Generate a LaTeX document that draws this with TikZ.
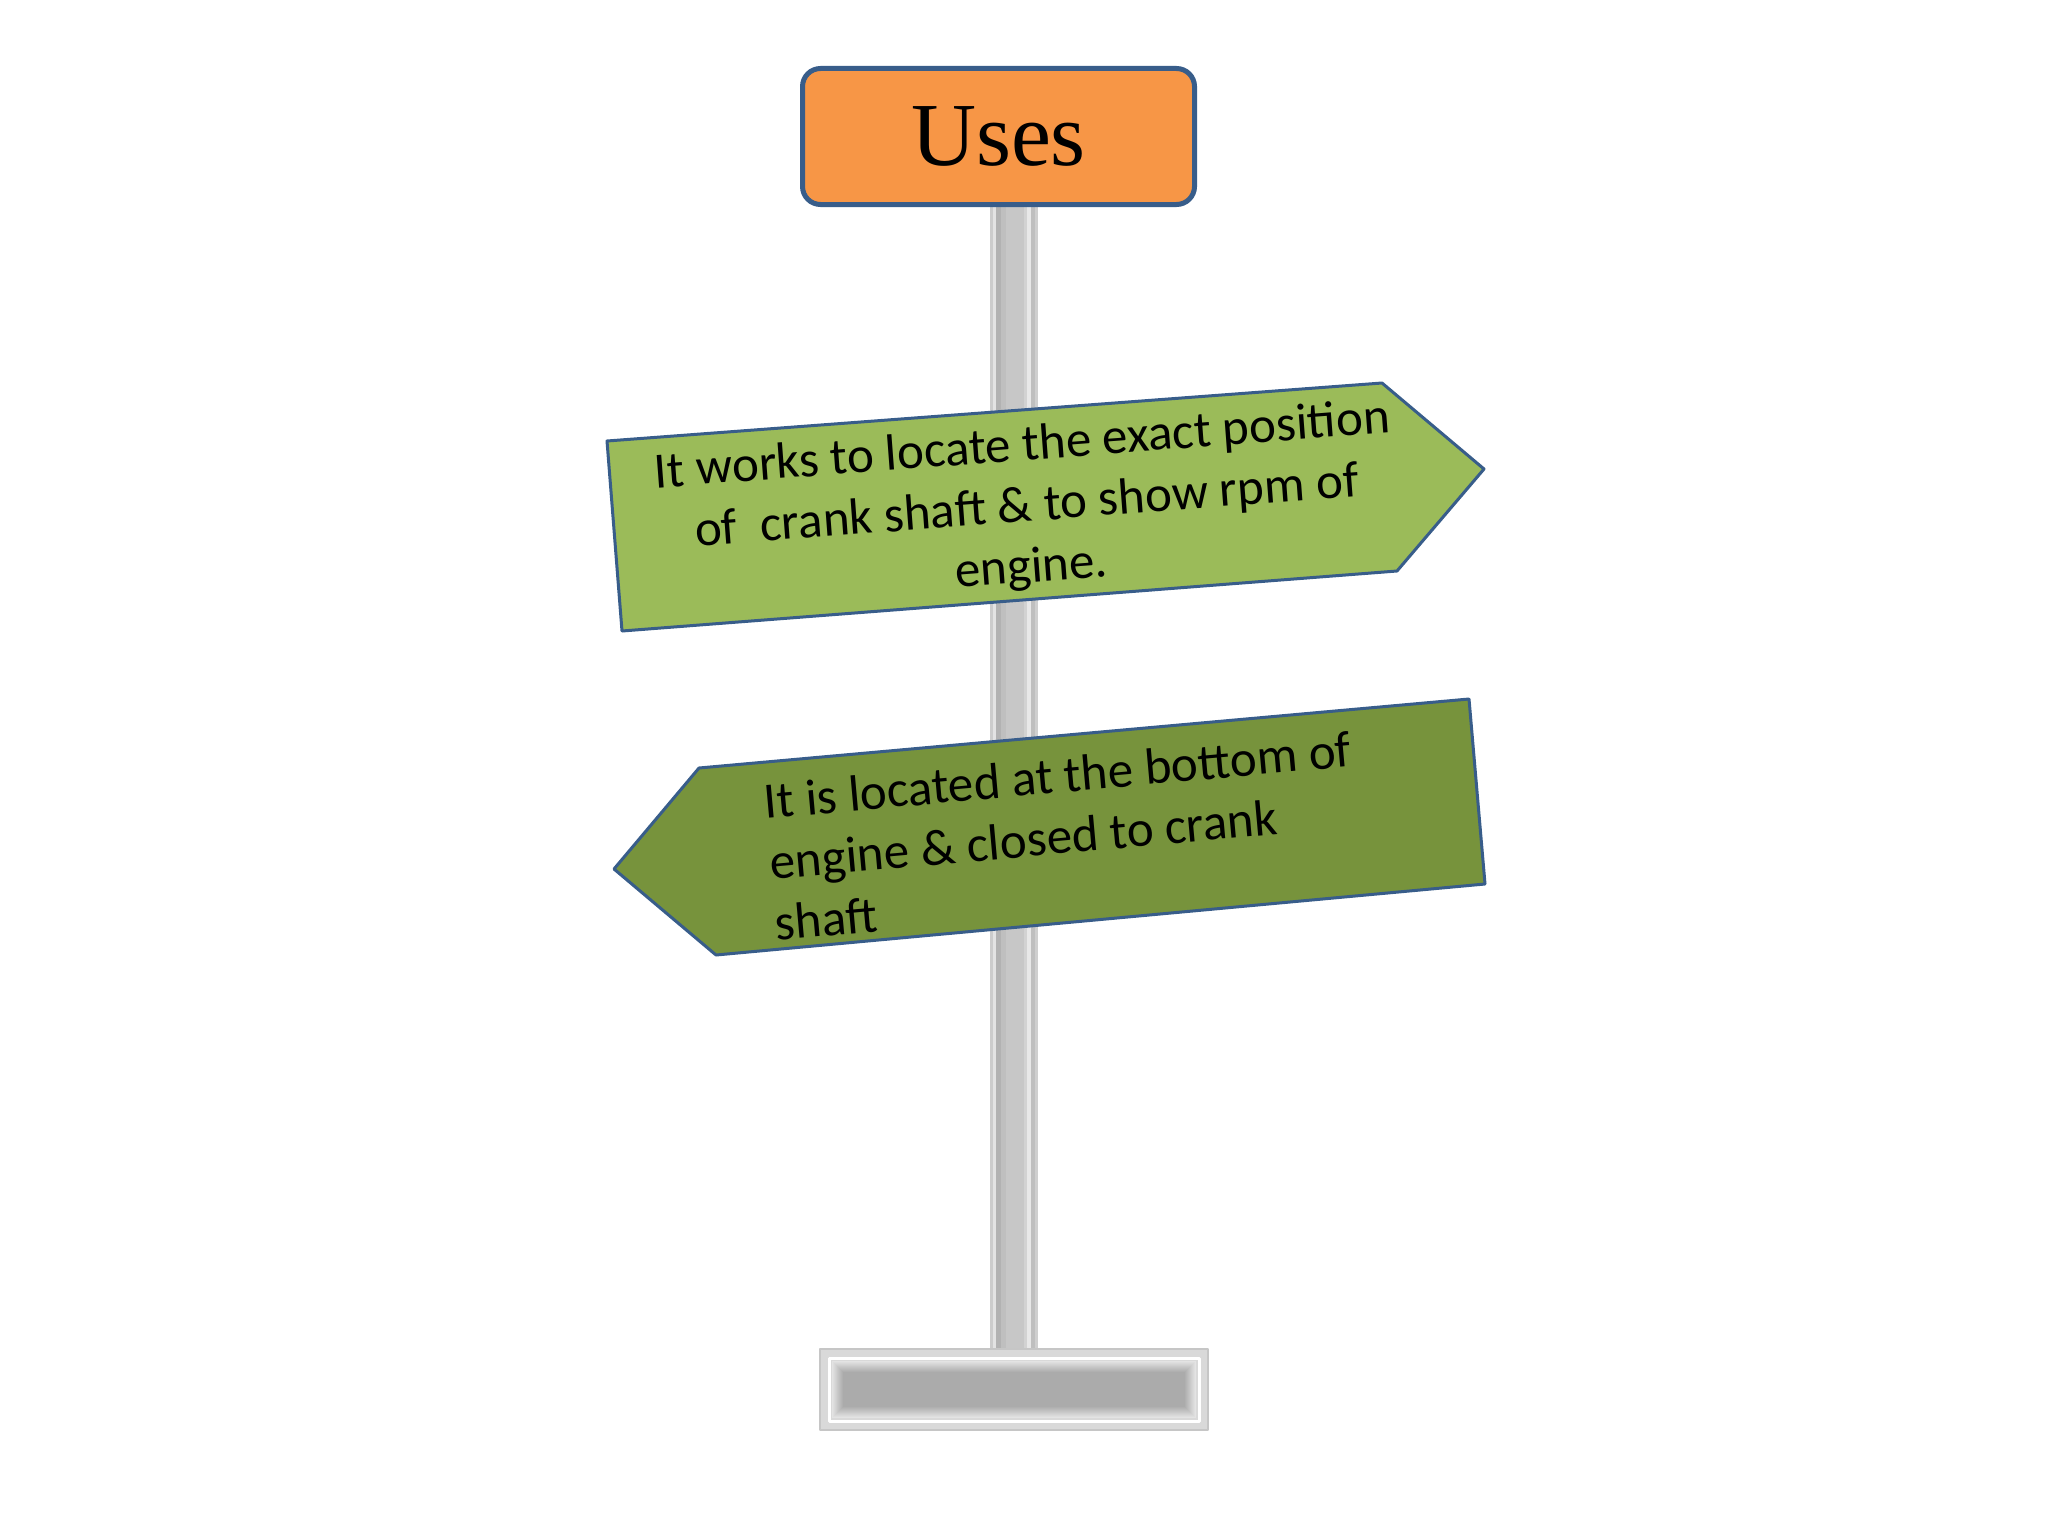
\documentclass[tikz,border=0pt]{standalone}
\usepackage{fontspec}
\setmainfont{Liberation Serif}
\newfontfamily\signfont{Carlito}
\definecolor{signblue}{HTML}{385D8A}
\definecolor{usesorange}{HTML}{F79646}
\definecolor{lightgreen}{HTML}{9BBB59}
\definecolor{darkgreen}{HTML}{77933C}
\begin{document}
\begin{tikzpicture}[x=0.5pt,y=-0.5pt,line join=round,
    sign/.style={draw=signblue,line width=1.5pt},
    signtext/.style={font=\signfont\fontsize{25.5}{30.5}\selectfont,inner sep=0pt},
    titlebox/.style={draw=signblue,line width=2.5pt,fill=usesorange,rounded corners=9pt,
        minimum width=196pt,minimum height=68pt,inner sep=0pt,
        font=\fontsize{45}{50}\selectfont}]
        % fix the page size
        \useasboundingbox (0,0) rectangle (2048,1536);

        % draw the pole, strip by strip
        \coordinate (poletop) at (990,200);
        \coordinate (polebot) at (1038,1349);
        \foreach \a/\b/\c in {990/993/40, 993/996/22, 996/1001/60, 1001/1006/50, 1006/1024/44,
                              1024/1027/35, 1027/1031/18, 1031/1035/50, 1035/1038/38}
                \fill[gray!\c] (\a,200) rectangle (\b,1349);

        % draw the foot of the pole
        \filldraw[fill=gray!30,draw=gray!45,line width=0.8pt] (820,1349) rectangle (1208,1430);
        \draw[white,line width=1.5pt] (829,1358) rectangle (1199,1421);
        \foreach \i [evaluate=\i as \c using int(22+4*\i)] in {0,...,11}
                \fill[gray!\c] (832+\i,1361+\i) rectangle (1196-\i,1418-\i);

        % the sign pointing right
        \draw[sign,fill=lightgreen] (607,441) -- (1382,383) -- (1484,469) -- (1397,571) -- (622,631) -- cycle;
        \node[signtext,align=center,rotate=4.3] (usea) at (1027,508)
            {It works to locate the exact position\\of\ \ crank shaft \& to show rpm of\\engine.};

        % the sign pointing left
        \draw[sign,fill=darkgreen] (614,869) -- (699,768) -- (1469,699) -- (1485,884) -- (716,955) -- cycle;
        \node[signtext,align=left,rotate=5.1] (useb) at (1063,836)
            {It is located at the bottom of\\engine \& closed to crank\\shaft};

        % the title on top
        \node[titlebox] (uses) at (998.5,136.5) {Uses};
\end{tikzpicture}
\end{document}
